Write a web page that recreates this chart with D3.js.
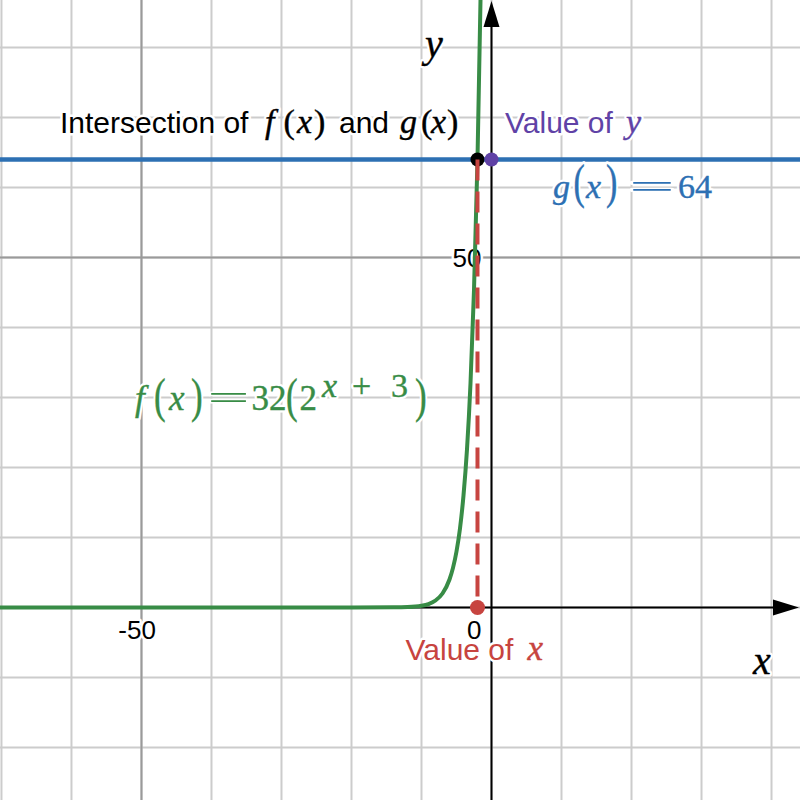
<!DOCTYPE html>
<html>
<head>
<meta charset="utf-8">
<script src="https://cdn.jsdelivr.net/npm/d3@7"></script>
<style>
  html, body { margin: 0; padding: 0; background: #fff; }
  svg { display: block; }
</style>
</head>
<body>
<svg id="chart" width="800" height="800"></svg>
<script>
// graph window, in graph units
const xDomain = [-70.21, 44.07];
const yDomain = [-27.5, 86.79];
const minorStep = 10;
const majorStep = 50;

// tick labels shown on the axes
const xTickLabels = [-50, 0];
const yTickLabels = [50];

// f(x) = 32(2^(x+3))
const fX = [-71, -20, -14, -12, -10, -9, -8, -7, -6, -5.5, -5, -4.5, -4, -3.5, -3, -2.5, -2, -1.5];
const fY = [0, 0, 0.02, 0.06, 0.25, 0.5, 1, 2, 4, 5.66, 8, 11.3, 16, 22.6, 32, 45.3, 64, 90.5];

// g(x) = 64
const gValue = 64;

// intersection and the two projections
const intersection = [-2, 64];
const valueOfX = [-2, 0];
const valueOfY = [0, 64];

const colors = { f: "#388c46", g: "#2d70b3", x: "#c74440", y: "#6042a6", axis: "#000" };
const sans = "'Liberation Sans', Arial, Helvetica, sans-serif";
const serif = "'Liberation Serif', 'Times New Roman', serif";

const W = 800, H = 800;
const svg = d3.select("#chart");

const x = d3.scaleLinear().domain(xDomain).range([0, W]);
const y = d3.scaleLinear().domain(yDomain).range([H, 0]);
const x0 = x(0), y0 = y(0);

// grid positions
const minorX = d3.range(Math.ceil(xDomain[0] / minorStep) * minorStep, xDomain[1], minorStep);
const minorY = d3.range(Math.ceil(yDomain[0] / minorStep) * minorStep, yDomain[1], minorStep);
const majorX = minorX.filter(v => v !== 0 && v % majorStep === 0);
const majorY = minorY.filter(v => v !== 0 && v % majorStep === 0);

function grid(vx, vy, color) {
  svg.append("g")
    .attr("transform", `translate(0,${H})`)
    .call(d3.axisBottom(x).tickValues(vx).tickSize(-H).tickFormat("").offset(0))
    .call(g => g.select(".domain").remove())
    .selectAll("line").attr("stroke", color).attr("stroke-width", 2);
  svg.append("g")
    .call(d3.axisLeft(y).tickValues(vy).tickSize(-W).tickFormat("").offset(0))
    .call(g => g.select(".domain").remove())
    .selectAll("line").attr("stroke", color).attr("stroke-width", 2);
}
grid(minorX, minorY, "#cccccc");
grid(majorX, majorY, "#9a9a9a");

// axes with arrow heads
const axes = svg.append("g");
axes.append("line").attr("x1", 0).attr("x2", W - 27).attr("y1", y0).attr("y2", y0)
  .attr("stroke", colors.axis).attr("stroke-width", 2);
axes.append("path").attr("d", `M${W - 1},${y0}L${W - 27},${y0 - 8}L${W - 27},${y0 + 8}Z`)
  .attr("fill", colors.axis);
axes.append("line").attr("x1", x0).attr("x2", x0).attr("y1", H).attr("y2", 27)
  .attr("stroke", colors.axis).attr("stroke-width", 2);
axes.append("path").attr("d", `M${x0},1L${x0 - 8},27L${x0 + 8},27Z`)
  .attr("fill", colors.axis);

function halo(sel) {
  return sel.attr("stroke", "#fff").attr("stroke-width", 5)
    .attr("stroke-linejoin", "round").attr("paint-order", "stroke");
}

// tick labels
const ticks = svg.append("g").attr("font-family", sans).attr("font-size", 26).attr("fill", "#000");
xTickLabels.forEach(v => {
  const t = ticks.append("text").attr("y", y0 + 31.5).attr("text-anchor", "end").text(v);
  if (v === 0) {
    t.attr("x", x0 - 10);
  } else {
    const tmp = ticks.append("text").text(Math.abs(v));
    const w = tmp.node().getComputedTextLength();
    tmp.remove();
    t.attr("x", x(v) + w / 2);
  }
  halo(t);
});
yTickLabels.forEach(v => {
  halo(ticks.append("text").attr("x", x0 - 10).attr("y", y(v) + 9)
    .attr("text-anchor", "end").text(v));
});

// g(x) = 64
const line = d3.line().x(d => x(d[0])).y(d => y(d[1]));
svg.append("path")
  .attr("d", line([[xDomain[0], gValue], [xDomain[1], gValue]]))
  .attr("fill", "none").attr("stroke", colors.g).attr("stroke-width", 4.5);

// f(x)
svg.append("path")
  .attr("d", line.curve(d3.curveMonotoneX)(fX.map((v, i) => [v, fY[i]])))
  .attr("fill", "none").attr("stroke", colors.f).attr("stroke-width", 4)
  .attr("stroke-linecap", "round");
line.curve(d3.curveLinear);

// intersection point, then the dashed drop to the x axis
svg.append("circle").attr("cx", x(intersection[0])).attr("cy", y(intersection[1]))
  .attr("r", 7).attr("fill", "#000");
svg.append("path")
  .attr("d", line([intersection, valueOfX]))
  .attr("fill", "none").attr("stroke", colors.x).attr("stroke-width", 4)
  .attr("stroke-dasharray", "21,11");
svg.append("circle").attr("cx", x(valueOfY[0])).attr("cy", y(valueOfY[1]))
  .attr("r", 7).attr("fill", colors.y);
svg.append("circle").attr("cx", x(valueOfX[0])).attr("cy", y(valueOfX[1]))
  .attr("r", 7.5).attr("fill", colors.x);

// labels built from pieces: text, offset, font, scale
function label(px, py, color, pieces) {
  const g = svg.append("g").attr("transform", `translate(${px},${py})`);
  const back = g.append("g"), front = g.append("g");
  [back, front].forEach((layer, k) => {
    pieces.forEach(p => {
      const t = layer.append("text")
        .attr("transform", `translate(${p.dx},${p.dy || 0}) scale(${p.sx || 1},${p.sy || 1})`)
        .attr("font-family", p.sans ? sans : serif)
        .attr("font-style", p.it ? "italic" : "normal")
        .attr("font-size", p.size)
        .attr("fill", color)
        .attr("vector-effect", "non-scaling-stroke")
        .text(p.t);
      if (k === 0) {
        t.attr("stroke", "#fff").attr("stroke-width", 5).attr("stroke-linejoin", "round");
      } else if (!p.sans && !p.sx) {
        // math glyphs are a little heavier in the reference
        t.attr("stroke", color).attr("stroke-width", 0.4);
      }
    });
  });
}

// axis names
label(x0 - 66.5, 57, "#000", [{ t: "y", dx: 0, size: 40, it: true }]);
label(W - 47, y0 + 66.5, "#000", [{ t: "x", dx: 0, size: 40, it: true }]);

const ix = x(intersection[0]), iy = y(intersection[1]);
label(ix - 417.5, iy - 27, "#000", [
  { t: "Intersection of", dx: 0, size: 30, sans: true },
  { t: "f", dx: 205, size: 34, it: true },
  { t: "(", dx: 223.5, size: 34 },
  { t: "x", dx: 237, size: 34, it: true },
  { t: ")", dx: 254, size: 34 },
  { t: "and", dx: 279, size: 30, sans: true },
  { t: "g", dx: 340, size: 34, it: true },
  { t: "(", dx: 361, size: 34 },
  { t: "x", dx: 371, size: 34, it: true },
  { t: ")", dx: 387, size: 34 }
]);

label(x(valueOfY[0]) + 13.5, y(valueOfY[1]) - 27, colors.y, [
  { t: "Value of", dx: 0, size: 30, sans: true },
  { t: "y", dx: 121, size: 34, it: true }
]);

label(x(valueOfX[0]) - 72, y(valueOfX[1]) + 52.5, colors.x, [
  { t: "Value of", dx: 0, size: 30, sans: true },
  { t: "x", dx: 122, size: 35, it: true }
]);

label(x0 + 61.5, y(gValue) + 38, colors.g, [
  { t: "g", dx: 0, size: 34, it: true },
  { t: "(", dx: 20.5, size: 34, sy: 1.42 },
  { t: "x", dx: 33, size: 34, it: true },
  { t: ")", dx: 53, size: 34, sy: 1.42 },
  { t: "=", dx: 76.3, size: 33, sx: 2.44 },
  { t: "64", dx: 125, size: 34 }
]);

label(135, y(0) - 197.5, colors.f, [
  { t: "f", dx: 0, size: 35, it: true },
  { t: "(", dx: 19, size: 35, sy: 1.4, dy: 2 },
  { t: "x", dx: 34, size: 35, it: true },
  { t: ")", dx: 56, size: 35, sy: 1.4, dy: 2 },
  { t: "=", dx: 72.5, size: 35, sx: 2.13 },
  { t: "32", dx: 116.5, size: 35 },
  { t: "(", dx: 151, size: 35, sy: 1.4, dy: 2 },
  { t: "2", dx: 164.5, size: 35 },
  { t: "x", dx: 187, size: 34, it: true, dy: -13 },
  { t: "+", dx: 217, size: 34, dy: -13 },
  { t: "3", dx: 256, size: 34, dy: -13 },
  { t: ")", dx: 280, size: 35, sy: 1.4, dy: 2 }
]);
</script>
</body>
</html>
